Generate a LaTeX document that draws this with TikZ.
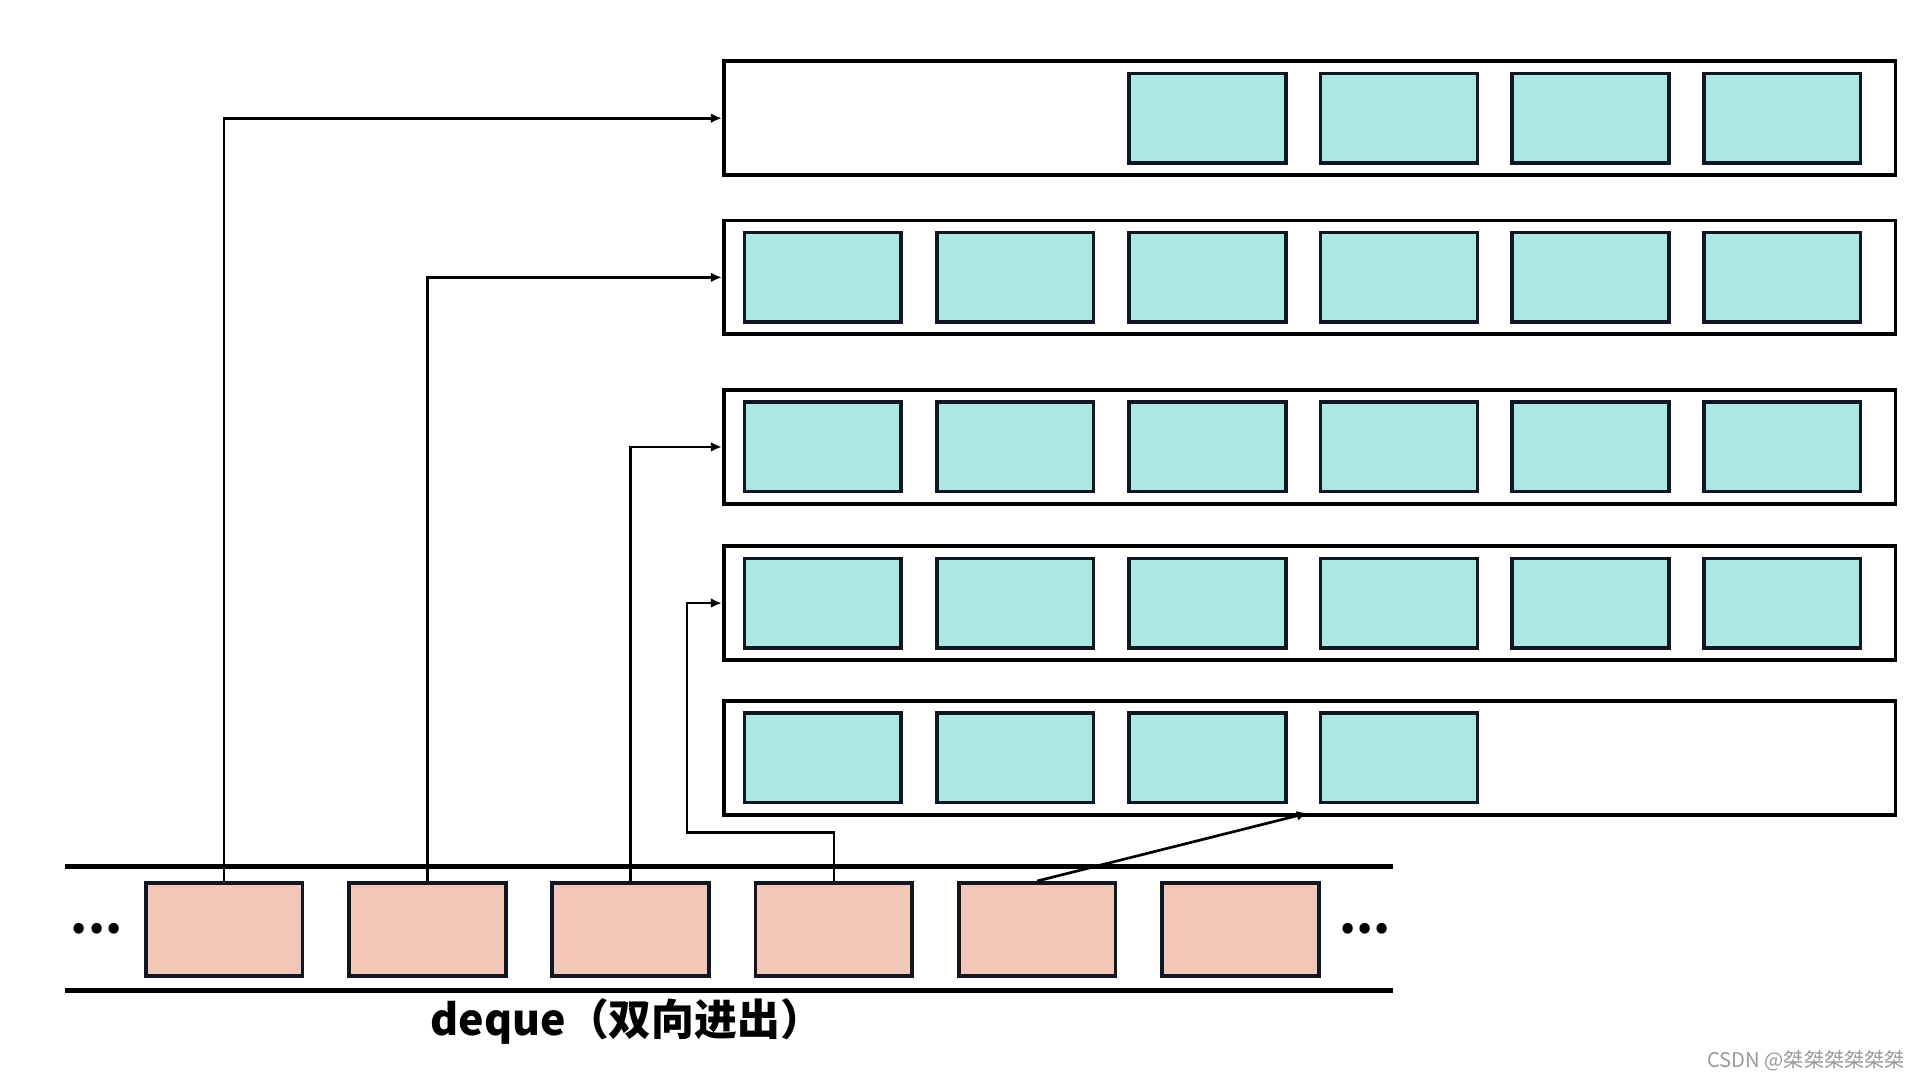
\documentclass[tikz,border=0pt]{standalone}
\usepackage{fontspec}
\setmainfont{Noto Sans CJK SC}
\newfontfamily\cjk{Noto Sans CJK SC}
\usetikzlibrary{arrows.meta}
\definecolor{tealfill}{HTML}{ACE8E2}
\definecolor{pinkfill}{HTML}{F3C7B8}
\definecolor{edgecol}{HTML}{111722}
\definecolor{wmgray}{HTML}{9A9A9A}
\tikzset{
  rowbox/.style={draw=black, line width=3pt, minimum width=957pt, minimum height=93pt, inner sep=0pt},
  cellbox/.style={draw=edgecol, fill=tealfill, line width=3pt, minimum width=128pt, minimum height=73pt, inner sep=0pt},
  pcellbox/.style={draw=edgecol, fill=pinkfill, line width=3pt, minimum width=128pt, minimum height=76pt, inner sep=0pt},
  conn/.style={line width=2.2pt, -{Latex[length=9pt,width=8pt]}},
  rail/.style={line width=4pt},
  dots/.style={font=\cjk\bfseries\fontsize{40}{40}\selectfont, inner sep=0pt, anchor=base}
}
\begin{document}
\begin{tikzpicture}[x=1pt,y=-1pt]
\useasboundingbox (0,0) rectangle (1568,882);
% rows
\node[rowbox] (r1) at (1069.5,96.5) {};
\node[rowbox] (r2) at (1069.5,226.5) {};
\node[rowbox] (r3) at (1069.5,365) {};
\node[rowbox] (r4) at (1069.5,492.5) {};
\node[rowbox] (r5) at (1069.5,619) {};
% row 1 cells
\foreach \x [count=\i from 3] in {986,1142.5,1299,1455.5}
  \node[cellbox] (c1\i) at (\x,96.5) {};
% rows 2-4
\foreach \y/\r in {226.5/2,365/3,492.5/4}
  \foreach \x [count=\i] in {672,829,986,1142.5,1299,1455.5}
    \node[cellbox] (c\r\i) at (\x,\y) {};
% row 5
\foreach \x [count=\i] in {672,829,986,1142.5}
  \node[cellbox] (c5\i) at (\x,619) {};
% deque rails
\coordinate (railA1) at (53,708);
\coordinate (railA2) at (1138,708);
\coordinate (railB1) at (53,809);
\coordinate (railB2) at (1138,809);
\draw[rail] (railA1) -- (railA2);
\draw[rail] (railB1) -- (railB2);
% pink cells
\foreach \x [count=\i] in {183,349,515,681,847,1013}
  \node[pcellbox] (p\i) at (\x,759) {};
% dots
\node[dots] (dl) at (79,762) {...};
\node[dots] (dr) at (1115,762) {...};
% connectors
\coordinate (k4) at (561,680);
\coordinate (t5) at (1068,664);
\draw[conn] (p1.north) |- (r1.west);
\draw[conn] (p2.north) |- (r2.west);
\draw[conn] (p3.north) |- (r3.west);
\draw[conn] (p4.north) |- (k4) |- (r4.west);
\draw[conn] (p5.north) -- (t5);
% label
\node[font=\cjk\bfseries\fontsize{35}{35}\selectfont, anchor=base, inner sep=0pt] (lbl) at (512,846) {deque（双向进出）};
% watermark
\node[font=\cjk\fontsize{16.5}{16.5}\selectfont, text=wmgray, anchor=east, inner sep=0pt] (wm) at (1556,866) {CSDN @桀桀桀桀桀桀};
\end{tikzpicture}
\end{document}
